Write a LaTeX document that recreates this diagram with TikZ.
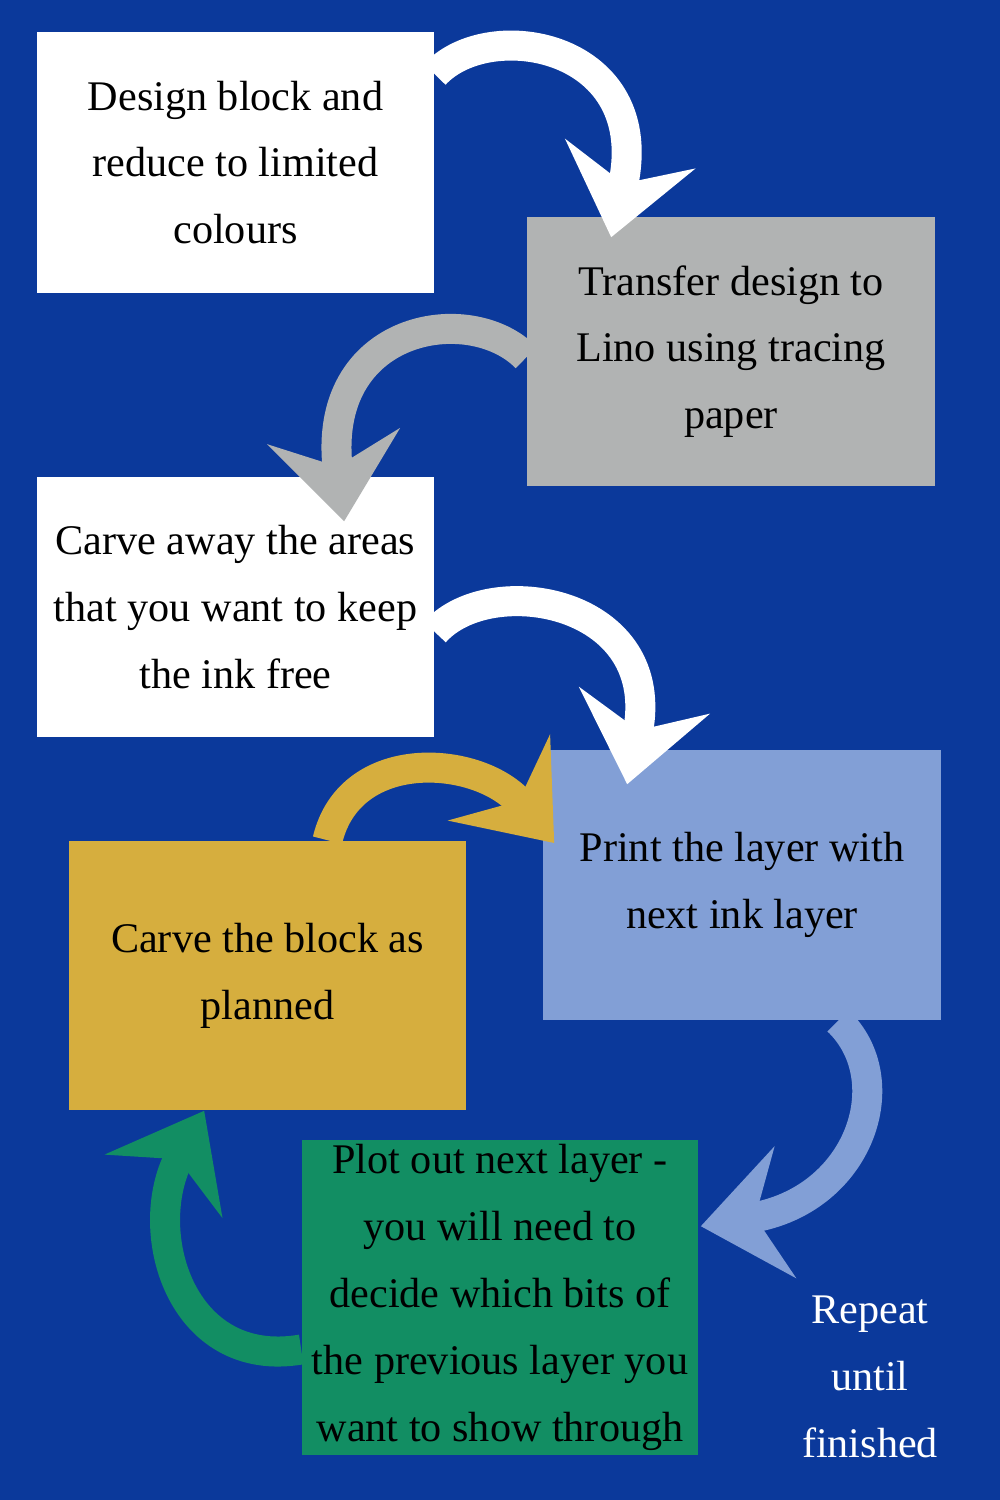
\documentclass[tikz,border=0pt]{standalone}
\usepackage{fontspec}
\setmainfont{Liberation Serif}
\usetikzlibrary{arrows.meta,calc}
\definecolor{bgblue}{RGB}{11,57,155}
\definecolor{cardgray}{RGB}{177,179,179}
\definecolor{cardblue}{RGB}{130,159,214}
\definecolor{cardyellow}{RGB}{214,174,62}
\definecolor{cardgreen}{RGB}{18,142,99}
\begin{document}
\begin{tikzpicture}[x=0.01cm,y=-0.01cm]
\tikzstyle{card} = [inner sep=0pt,align=center,font=\fontsize{12}{19}\selectfont];
\tikzstyle{swoosh} = [line width=0.3cm,-{Stealth[length=0.85cm,width=1.32cm,inset=0.3cm]}];

\fill [bgblue] (0,0) rectangle (1000,1500);

\node [card,fill=white,minimum width=3.97cm,minimum height=2.61cm] (v1) at (235.5,162.5) {Design block and\\reduce to limited\\colours};
\node [card,fill=cardgray,minimum width=4.08cm,minimum height=2.69cm] (v2) at (731,351.5) {Transfer design to\\Lino using tracing\\paper};
\node [card,fill=white,minimum width=3.97cm,minimum height=2.60cm] (v3) at (235.5,607) {Carve away the areas\\that you want to keep\\the ink free};
\node [card,fill=cardblue,minimum width=3.98cm,minimum height=2.70cm] (v4) at (742,885) {Print the layer with\\next ink layer};
\node [card,fill=cardyellow,minimum width=3.97cm,minimum height=2.69cm] (v5) at (267.5,975.5) {Carve the block as\\planned};
\node [card,fill=cardgreen,minimum width=3.96cm,minimum height=3.15cm] (v6) at (500,1297.5) {Plot out next layer -\\you will need to\\decide which bits of\\the previous layer you\\want to show through};
\node [card,text=white] (v7) at (870,1377) {Repeat\\until\\finished};

\draw [swoosh,white] ($(v1.north east)+(0,43)$) .. controls (490,15) and (655,45) .. ($(v2.north west)+(85,21)$);
\draw [swoosh,cardgray] ($(v2.west)+(0,6)$) .. controls (470,300) and (320,325) .. ($(v3.north west)+(308,45)$);
\draw [swoosh,white] ($(v3.east)+(0,25)$) .. controls (490,570) and (665,600) .. ($(v4.north west)+(85,35)$);
\draw [swoosh,cardyellow] ($(v5.north)+(60,0)$) .. controls (350,745) and (480,755) .. ($(v4.west)+(12,-42)$);
\draw [swoosh,cardblue] ($(v4.south)+(96,0)$) .. controls (900,1080) and (860,1200) .. ($(v6.north east)+(2,87)$);
\draw [swoosh,cardgreen] ($(v6.west)+(0,52)$) .. controls (180,1370) and (140,1230) .. ($(v5.south west)+(136,0)$);
\end{tikzpicture}
\end{document}
